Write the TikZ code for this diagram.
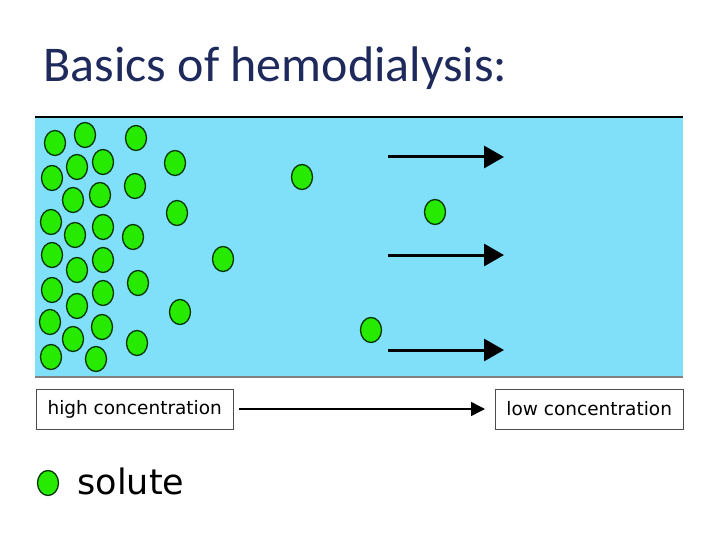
\documentclass[tikz,border=0pt]{standalone}
\usepackage{fontspec}
\setmainfont{Carlito}
\newfontfamily\lab{DejaVu Sans}
\usetikzlibrary{arrows.meta}
\definecolor{water}{HTML}{80E0FA}
\definecolor{navy}{HTML}{1F2A5C}
\begin{document}
\begin{tikzpicture}[x=1pt,y=-1pt,
 sol/.style={draw=black!80!green,line width=1.3pt,fill=green!90!black!80!lime,x radius=10.5,y radius=12.5},
 big/.style={line width=3pt,-{Triangle[length=20pt,width=22pt]}},
 lbox/.style={draw=black!70,fill=white,minimum height=40pt,inner sep=2pt,font=\lab\fontsize{18.5}{18}\selectfont,anchor=west}]
\useasboundingbox (0,0) rectangle (720,540);
\node[anchor=west,text=navy,font=\fontsize{50}{52}\selectfont] (title) at (40,68) {Basics of hemodialysis:};
\fill[water] (35,117) rectangle (683,377);
\draw[line width=2pt] (35,117) -- (683,117);
\draw[gray,line width=2pt] (35,377) -- (683,377);
\foreach \x/\y in {55/143,85/135,136/138,77/167,103/162,175/163,52/178,73/200,100/195,135/186,177/213,51/222,75/235,103/227,133/237,223/259,52/255,77/270,103/260,138/283,52/290,77/306,103/293,180/312,50/322,73/339,102/327,137/343,51/357,96/359,302/177,435/212,371/330}
  \fill[sol] (\x,\y) ellipse [];
\foreach \y/\n in {157/a,255/b,350/c}{
  \coordinate (s\n) at (388,\y); \coordinate (e\n) at (504,\y);
  \draw[big] (s\n) -- (e\n);}
\node[lbox,minimum width=197pt] (hi) at (36,409) {high concentration};
\node[lbox,minimum width=188pt] (lo) at (495,409) {low concentration};
\draw[line width=1.5pt,-{Triangle[length=14pt,width=14pt]}] ([xshift=6pt]hi.east) -- ([xshift=-10pt]lo.west);
\fill[sol] (48,483) ellipse [];
\node[anchor=west,font=\lab\fontsize{35}{35}\selectfont] (solute) at (74,481) {solute};
\end{tikzpicture}
\end{document}
